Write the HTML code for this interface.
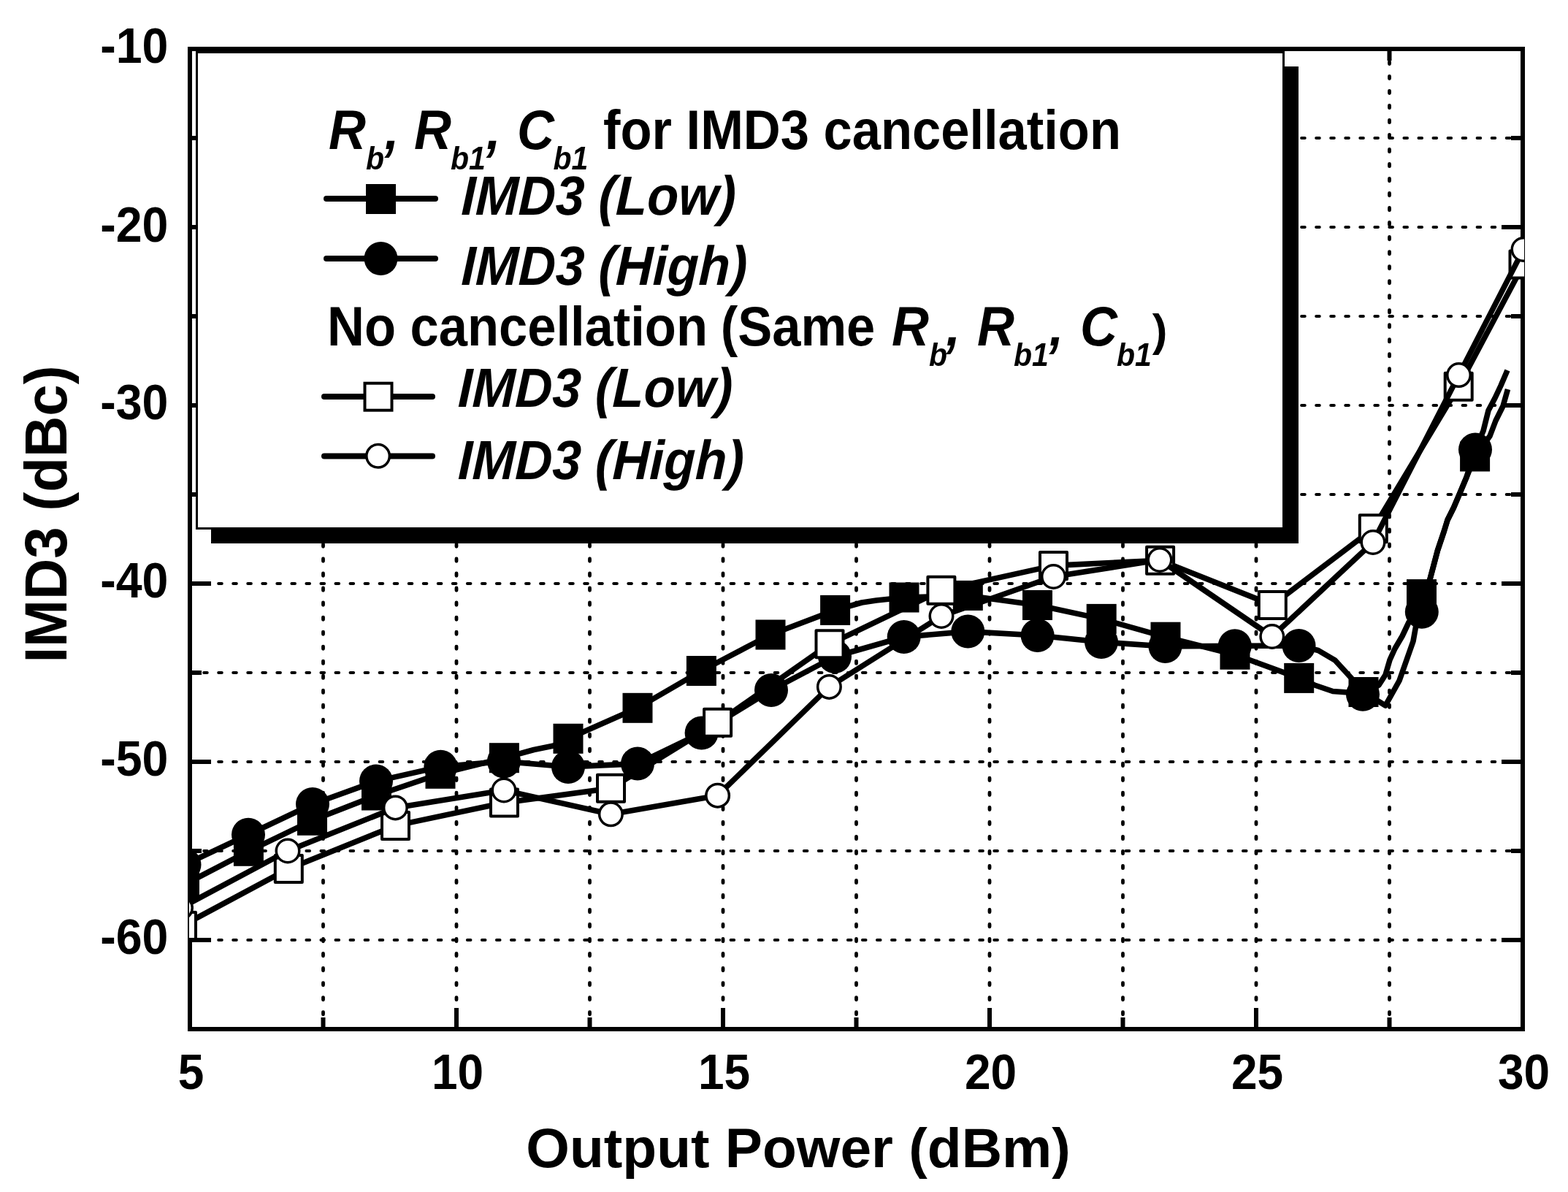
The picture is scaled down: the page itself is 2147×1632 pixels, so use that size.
<!DOCTYPE html>
<html><head><meta charset="utf-8"><title>IMD3 vs Output Power</title>
<style>
html,body{margin:0;padding:0;background:#fff;width:2147px;height:1632px;overflow:hidden}
svg{display:block}
text{font-family:"Liberation Sans",Arial,sans-serif;font-weight:bold;fill:#000}
</style></head><body>
<svg width="2147" height="1632" viewBox="0 0 2147 1632">
<defs><clipPath id="pc"><rect x="259" y="66" width="1828" height="1344"/></clipPath></defs>
<rect x="0" y="0" width="2147" height="1632" fill="#fff"/>

<g stroke="#000" stroke-width="4.8" stroke-linecap="round" stroke-dasharray="3.3 16.72" stroke-dashoffset="2.75" fill="none">
<line x1="442.5" y1="67" x2="442.5" y2="1409"/>
<line x1="625.0" y1="67" x2="625.0" y2="1409"/>
<line x1="807.5" y1="67" x2="807.5" y2="1409"/>
<line x1="990.0" y1="67" x2="990.0" y2="1409"/>
<line x1="1172.5" y1="67" x2="1172.5" y2="1409"/>
<line x1="1355.0" y1="67" x2="1355.0" y2="1409"/>
<line x1="1537.5" y1="67" x2="1537.5" y2="1409"/>
<line x1="1720.0" y1="67" x2="1720.0" y2="1409"/>
<line x1="1902.5" y1="67" x2="1902.5" y2="1409"/>
</g>
<g stroke="#000" stroke-width="4.0" stroke-linecap="round" stroke-dasharray="4.6 15.44" stroke-dashoffset="0.9" fill="none">
<line x1="260" y1="189" x2="2085" y2="189"/>
<line x1="260" y1="311" x2="2085" y2="311"/>
<line x1="260" y1="433" x2="2085" y2="433"/>
<line x1="260" y1="555" x2="2085" y2="555"/>
<line x1="260" y1="677" x2="2085" y2="677"/>
<line x1="260" y1="799" x2="2085" y2="799"/>
<line x1="260" y1="921" x2="2085" y2="921"/>
<line x1="260" y1="1043" x2="2085" y2="1043"/>
<line x1="260" y1="1165" x2="2085" y2="1165"/>
<line x1="260" y1="1287" x2="2085" y2="1287"/>
</g>
<path d="M257,67h32M2088,67h-32M257,189h19M2088,189h-19M257,311h32M2088,311h-32M257,433h19M2088,433h-19M257,555h32M2088,555h-32M257,677h19M2088,677h-19M257,799h32M2088,799h-32M257,921h19M2088,921h-19M257,1043h32M2088,1043h-32M257,1165h19M2088,1165h-19M257,1287h32M2088,1287h-32M257,1409h19M2088,1409h-19M260.0,1412v-32M260.0,64v32M442.5,1412v-19M442.5,64v19M625.0,1412v-32M625.0,64v32M807.5,1412v-19M807.5,64v19M990.0,1412v-32M990.0,64v32M1172.5,1412v-19M1172.5,64v19M1355.0,1412v-32M1355.0,64v32M1537.5,1412v-19M1537.5,64v19M1720.0,1412v-32M1720.0,64v32M1902.5,1412v-19M1902.5,64v19M2085.0,1412v-32M2085.0,64v32" stroke="#000" stroke-width="6" fill="none"/>
<rect x="260" y="67" width="1825" height="1342" fill="none" stroke="#000" stroke-width="6"/>
<rect x="289" y="91" width="1489" height="653" fill="#000"/>
<rect x="269.5" y="71.5" width="1488" height="652" fill="#fff" stroke="#000" stroke-width="3"/>
<g clip-path="url(#pc)" stroke-linejoin="round">
<polyline points="252.5,1211.0 340.4,1165.3 427.5,1123.3 515.5,1089.0 603.0,1059.3 690.4,1037.7 731.0,1026.5 758.0,1021.0 778.0,1011.3 873.0,969.3 960.4,918.5 1055.0,869.0 1143.6,835.4 1180.0,825.0 1200.0,822.0 1238.0,818.0 1325.3,815.4 1420.5,828.5 1508.2,847.4 1596.0,872.2 1691.0,896.2 1778.7,928.4 1800.0,938.0 1825.0,946.5 1846.0,948.0 1867.0,947.5 1897.0,966.0 1916.0,932.0 1935.0,878.0 1946.5,813.6 1958.0,793.0 1968.5,753.5 1977.4,727.0 1982.0,712.0 1990.6,694.7 1999.4,674.0 2008.0,653.5 2019.6,625.0 2040.0,597.0 2048.0,576.0 2058.0,556.0 2064.5,533.0" fill="none" stroke="#000" stroke-width="7.6"/>
<rect x="232.0" y="1190.5" width="41" height="41" fill="#000"/><rect x="319.9" y="1144.8" width="41" height="41" fill="#000"/><rect x="407.0" y="1102.8" width="41" height="41" fill="#000"/><rect x="495.0" y="1068.5" width="41" height="41" fill="#000"/><rect x="582.5" y="1038.8" width="41" height="41" fill="#000"/><rect x="669.9" y="1017.2" width="41" height="41" fill="#000"/><rect x="757.5" y="990.8" width="41" height="41" fill="#000"/><rect x="852.5" y="948.8" width="41" height="41" fill="#000"/><rect x="939.9" y="898.0" width="41" height="41" fill="#000"/><rect x="1034.5" y="848.5" width="41" height="41" fill="#000"/><rect x="1123.1" y="814.9" width="41" height="41" fill="#000"/><rect x="1217.5" y="797.5" width="41" height="41" fill="#000"/><rect x="1304.8" y="794.9" width="41" height="41" fill="#000"/><rect x="1400.0" y="808.0" width="41" height="41" fill="#000"/><rect x="1487.7" y="826.9" width="41" height="41" fill="#000"/><rect x="1575.5" y="851.7" width="41" height="41" fill="#000"/><rect x="1670.5" y="875.7" width="41" height="41" fill="#000"/><rect x="1758.2" y="907.9" width="41" height="41" fill="#000"/><rect x="1846.5" y="927.0" width="41" height="41" fill="#000"/><rect x="1926.0" y="793.1" width="41" height="41" fill="#000"/><rect x="1999.1" y="604.5" width="41" height="41" fill="#000"/>
<polyline points="252.5,1184.0 340.0,1142.8 428.0,1101.0 515.0,1069.6 603.3,1049.8 690.0,1042.4 778.0,1049.9 873.0,1045.6 960.6,1003.5 1056.0,944.9 1143.0,899.0 1237.7,872.0 1325.3,864.6 1420.6,870.0 1508.0,879.0 1595.5,885.0 1690.8,884.3 1778.5,884.0 1805.0,890.5 1828.0,904.0 1850.0,928.0 1866.0,950.7 1888.0,938.0 1897.0,924.0 1903.0,903.5 1910.0,888.0 1920.0,871.0 1929.0,852.0 1946.8,837.8 1958.0,793.0 1968.5,753.5 1977.4,727.0 1982.0,712.0 1990.6,694.7 1999.4,674.0 2008.0,653.5 2020.0,615.5 2031.0,590.0 2038.0,562.0 2047.0,545.0 2055.0,528.0 2064.0,507.0" fill="none" stroke="#000" stroke-width="7.6"/>
<circle cx="252.5" cy="1184.0" r="23" fill="#000"/><circle cx="340.0" cy="1142.8" r="23" fill="#000"/><circle cx="428.0" cy="1101.0" r="23" fill="#000"/><circle cx="515.0" cy="1069.6" r="23" fill="#000"/><circle cx="603.3" cy="1049.8" r="23" fill="#000"/><circle cx="690.0" cy="1042.4" r="23" fill="#000"/><circle cx="778.0" cy="1049.9" r="23" fill="#000"/><circle cx="873.0" cy="1045.6" r="23" fill="#000"/><circle cx="960.6" cy="1003.5" r="23" fill="#000"/><circle cx="1056.0" cy="944.9" r="23" fill="#000"/><circle cx="1143.0" cy="899.0" r="23" fill="#000"/><circle cx="1237.7" cy="872.0" r="23" fill="#000"/><circle cx="1325.3" cy="864.6" r="23" fill="#000"/><circle cx="1420.6" cy="870.0" r="23" fill="#000"/><circle cx="1508.0" cy="879.0" r="23" fill="#000"/><circle cx="1595.5" cy="885.0" r="23" fill="#000"/><circle cx="1690.8" cy="884.3" r="23" fill="#000"/><circle cx="1778.5" cy="884.0" r="23" fill="#000"/><circle cx="1866.0" cy="950.7" r="23" fill="#000"/><circle cx="1946.8" cy="837.8" r="23" fill="#000"/><circle cx="2020.0" cy="615.5" r="23" fill="#000"/>
<polyline points="249.5,1267.5 395.3,1189.4 541.5,1130.4 690.5,1099.0 836.5,1079.3 982.6,989.3 1136.0,881.8 1288.9,808.3 1442.5,774.4 1588.6,767.2 1742.3,828.4 1880.3,723.8 1997.2,529.3 2086.0,362.0" fill="none" stroke="#000" stroke-width="7.6"/>
<rect x="231.0" y="1249.0" width="37" height="37" fill="#fff" stroke="#000" stroke-width="4"/><rect x="376.8" y="1170.9" width="37" height="37" fill="#fff" stroke="#000" stroke-width="4"/><rect x="523.0" y="1111.9" width="37" height="37" fill="#fff" stroke="#000" stroke-width="4"/><rect x="672.0" y="1080.5" width="37" height="37" fill="#fff" stroke="#000" stroke-width="4"/><rect x="818.0" y="1060.8" width="37" height="37" fill="#fff" stroke="#000" stroke-width="4"/><rect x="964.1" y="970.8" width="37" height="37" fill="#fff" stroke="#000" stroke-width="4"/><rect x="1117.5" y="863.3" width="37" height="37" fill="#fff" stroke="#000" stroke-width="4"/><rect x="1270.4" y="789.8" width="37" height="37" fill="#fff" stroke="#000" stroke-width="4"/><rect x="1424.0" y="755.9" width="37" height="37" fill="#fff" stroke="#000" stroke-width="4"/><rect x="1570.1" y="748.7" width="37" height="37" fill="#fff" stroke="#000" stroke-width="4"/><rect x="1723.8" y="809.9" width="37" height="37" fill="#fff" stroke="#000" stroke-width="4"/><rect x="1861.8" y="705.3" width="37" height="37" fill="#fff" stroke="#000" stroke-width="4"/><rect x="1978.7" y="510.8" width="37" height="37" fill="#fff" stroke="#000" stroke-width="4"/><rect x="2067.5" y="343.5" width="37" height="37" fill="#fff" stroke="#000" stroke-width="4"/>
<polyline points="247.5,1243.0 394.0,1165.0 541.4,1105.9 690.0,1082.0 836.4,1114.8 982.6,1089.2 1135.4,940.4 1289.0,843.5 1442.5,789.5 1588.0,766.5 1741.8,871.5 1880.0,742.5 1997.5,513.6 2086.0,341.5" fill="none" stroke="#000" stroke-width="7.6"/>
<circle cx="247.5" cy="1243.0" r="15.75" fill="#fff" stroke="#000" stroke-width="3.5"/><circle cx="394.0" cy="1165.0" r="15.75" fill="#fff" stroke="#000" stroke-width="3.5"/><circle cx="541.4" cy="1105.9" r="15.75" fill="#fff" stroke="#000" stroke-width="3.5"/><circle cx="690.0" cy="1082.0" r="15.75" fill="#fff" stroke="#000" stroke-width="3.5"/><circle cx="836.4" cy="1114.8" r="15.75" fill="#fff" stroke="#000" stroke-width="3.5"/><circle cx="982.6" cy="1089.2" r="15.75" fill="#fff" stroke="#000" stroke-width="3.5"/><circle cx="1135.4" cy="940.4" r="15.75" fill="#fff" stroke="#000" stroke-width="3.5"/><circle cx="1289.0" cy="843.5" r="15.75" fill="#fff" stroke="#000" stroke-width="3.5"/><circle cx="1442.5" cy="789.5" r="15.75" fill="#fff" stroke="#000" stroke-width="3.5"/><circle cx="1588.0" cy="766.5" r="15.75" fill="#fff" stroke="#000" stroke-width="3.5"/><circle cx="1741.8" cy="871.5" r="15.75" fill="#fff" stroke="#000" stroke-width="3.5"/><circle cx="1880.0" cy="742.5" r="15.75" fill="#fff" stroke="#000" stroke-width="3.5"/><circle cx="1997.5" cy="513.6" r="15.75" fill="#fff" stroke="#000" stroke-width="3.5"/><circle cx="2086.0" cy="341.5" r="15.75" fill="#fff" stroke="#000" stroke-width="3.5"/>
</g>
<text x="230.5" y="86.5" font-size="64.5" text-anchor="end" transform="matrix(1 0 0 1.067 0 -5.80)">-10</text>
<text x="230.5" y="330.5" font-size="64.5" text-anchor="end" transform="matrix(1 0 0 1.067 0 -22.14)">-20</text>
<text x="230.5" y="574.5" font-size="64.5" text-anchor="end" transform="matrix(1 0 0 1.067 0 -38.49)">-30</text>
<text x="230.5" y="818.5" font-size="64.5" text-anchor="end" transform="matrix(1 0 0 1.067 0 -54.84)">-40</text>
<text x="230.5" y="1062.5" font-size="64.5" text-anchor="end" transform="matrix(1 0 0 1.067 0 -71.19)">-50</text>
<text x="230.5" y="1306.5" font-size="64.5" text-anchor="end" transform="matrix(1 0 0 1.067 0 -87.54)">-60</text>
<text x="261.5" y="1490.5" font-size="64" text-anchor="middle" transform="matrix(1 0 0 1.065 0 -96.88)">5</text>
<text x="626.5" y="1490.5" font-size="64" text-anchor="middle" transform="matrix(1 0 0 1.065 0 -96.88)">10</text>
<text x="991.5" y="1490.5" font-size="64" text-anchor="middle" transform="matrix(1 0 0 1.065 0 -96.88)">15</text>
<text x="1356.5" y="1490.5" font-size="64" text-anchor="middle" transform="matrix(1 0 0 1.065 0 -96.88)">20</text>
<text x="1721.5" y="1490.5" font-size="64" text-anchor="middle" transform="matrix(1 0 0 1.065 0 -96.88)">25</text>
<text x="2086.5" y="1490.5" font-size="64" text-anchor="middle" transform="matrix(1 0 0 1.065 0 -96.88)">30</text>
<text x="1093" y="1598" font-size="76.7" text-anchor="middle">Output Power (dBm)</text>
<text transform="translate(91,704) rotate(-90) scale(1,1.037)" font-size="78" text-anchor="middle">IMD3 (dBc)</text>
<g font-size="70.5">
<text transform="matrix(1 0 0 1.07 0 -14.26)"><tspan x="450" y="203.7" font-style="italic">R</tspan><tspan x="501" y="230.2" font-size="41" font-style="italic">b</tspan><tspan x="526.7" y="203.7" font-style="italic">,</tspan><tspan x="567" y="203.7" font-style="italic">R</tspan><tspan x="617" y="230.2" font-size="41" font-style="italic">b1</tspan><tspan x="666" y="203.7" font-style="italic">,</tspan><tspan x="708" y="203.7" font-style="italic">C</tspan><tspan x="757.5" y="230.2" font-size="41" font-style="italic">b1</tspan><tspan x="826" y="203.7">for IMD3 cancellation</tspan></text>
<text x="631" y="293.9" font-style="italic" transform="matrix(1 0 -0.035 1.07 10.29 -20.57)">IMD3 (Low)</text>
<text x="631" y="390.3" font-style="italic" transform="matrix(1 0 -0.035 1.07 13.66 -27.32)">IMD3 (High)</text>
<text x="626.5" y="557.4" font-style="italic" transform="matrix(1 0 -0.035 1.07 19.51 -39.02)">IMD3 (Low)</text>
<text x="626.5" y="655.6" font-style="italic" transform="matrix(1 0 -0.035 1.07 22.95 -45.89)">IMD3 (High)</text>
<text transform="matrix(1 0 0 1.07 0 -33.08)"><tspan x="448" y="472.6">No cancellation</tspan><tspan x="986.7" y="472.6">(Same</tspan><tspan x="1221" y="472.6" font-style="italic">R</tspan><tspan x="1272.1" y="499.1" font-size="41" font-style="italic">b</tspan><tspan x="1295.5" y="472.6" font-style="italic">,</tspan><tspan x="1338" y="472.6" font-style="italic">R</tspan><tspan x="1388" y="499.1" font-size="41" font-style="italic">b1</tspan><tspan x="1436.8" y="472.6" font-style="italic">,</tspan><tspan x="1478.9" y="472.6" font-style="italic">C</tspan><tspan x="1528.9" y="499.1" font-size="41" font-style="italic">b1</tspan></text>
<text x="1577.8" y="472.9" font-size="62" font-weight="normal">)</text>
</g>
<g stroke="#000" stroke-width="8" stroke-linecap="round" fill="none">
<line x1="447" y1="272" x2="596" y2="272"/><line x1="447" y1="354" x2="596" y2="354"/>
<line x1="444" y1="543" x2="592" y2="543"/><line x1="444" y1="624.5" x2="592" y2="624.5"/>
</g>
<rect x="501.0" y="252.0" width="41" height="41" fill="#000"/>
<circle cx="521.5" cy="354.0" r="23" fill="#000"/>
<rect x="499.5" y="524.7" width="37" height="37" fill="#fff" stroke="#000" stroke-width="4"/>
<circle cx="517.6" cy="624.3" r="15.75" fill="#fff" stroke="#000" stroke-width="3.5"/>
</svg>
</body></html>
